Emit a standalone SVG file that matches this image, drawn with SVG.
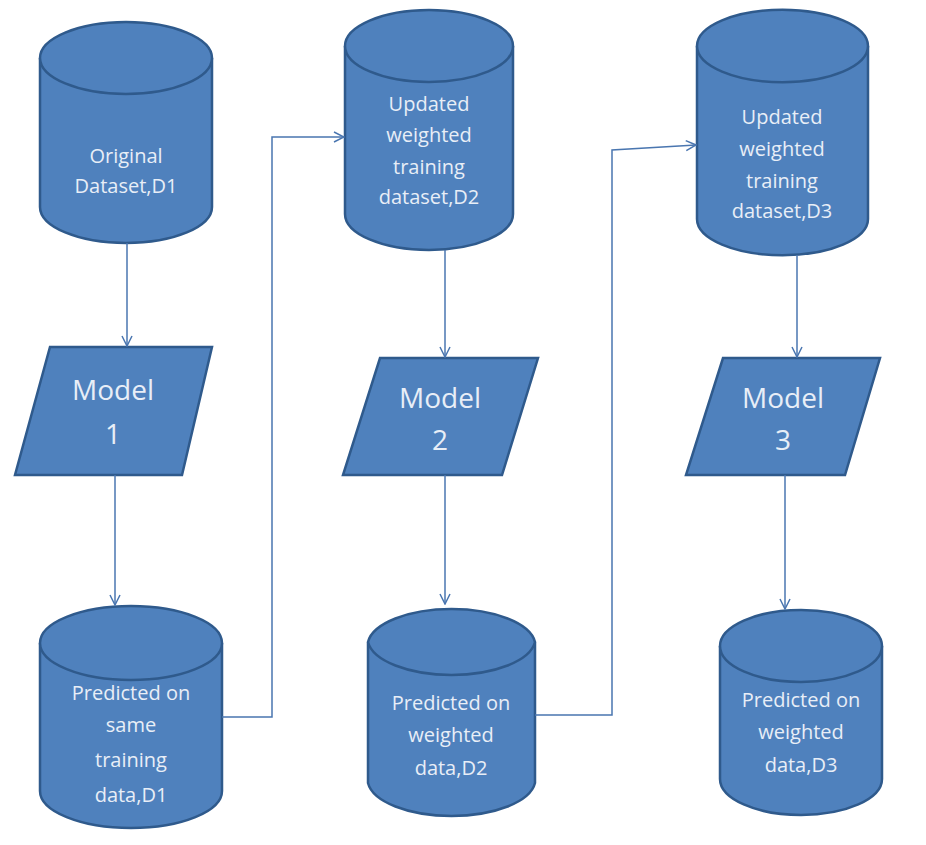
<svg xmlns="http://www.w3.org/2000/svg" width="926" height="845" viewBox="0 0 926 845">
<defs>
<marker id="ah" viewBox="0 0 12 12" refX="11" refY="6" markerWidth="12" markerHeight="12" markerUnits="userSpaceOnUse" orient="auto"><path d="M1,1 L11,6 L1,11" fill="none" stroke="#4a76b0" stroke-width="1.5"/></marker>
</defs>
<style>
.s{fill:#4f81bd;stroke:#2f5a8c;stroke-width:2.5}
.t{font-family:"Open Sans","Liberation Sans",sans-serif;fill:#e8eef7;text-anchor:middle;font-size:20px}
.m{font-size:28px}
.c{fill:none;stroke:#4a76b0;stroke-width:1.5;marker-end:url(#ah)}
</style>
<rect width="926" height="845" fill="#fff"/>
<g id="cyl1"><path class="s" d="M40,58 A86,36 0 0 1 212,58 V207 A86,36 0 0 1 40,207 Z"/><path class="s" d="M40,58 A86,36 0 0 0 212,58"/><text class="t" x="126" y="163">Original</text><text class="t" x="126" y="193">Dataset,D1</text></g>
<g id="cyl2"><path class="s" d="M345,46 A84,36 0 0 1 513,46 V214 A84,36 0 0 1 345,214 Z"/><path class="s" d="M345,46 A84,36 0 0 0 513,46"/><text class="t" x="429" y="111">Updated</text><text class="t" x="429" y="142">weighted</text><text class="t" x="429" y="174">training</text><text class="t" x="429" y="204">dataset,D2</text></g>
<g id="cyl3"><path class="s" d="M697,46 A85,36 0 0 1 868,46 V219 A85,36 0 0 1 697,219 Z"/><path class="s" d="M697,46 A85,36 0 0 0 868,46"/><text class="t" x="782" y="124">Updated</text><text class="t" x="782" y="156">weighted</text><text class="t" x="782" y="188">training</text><text class="t" x="782" y="218">dataset,D3</text></g>
<g id="model1"><path class="s" d="M50,347 H212 L182,475 H15 Z"/><text class="t m" x="113" y="400">Model</text><text class="t m" x="113" y="444">1</text></g>
<g id="model2"><path class="s" d="M380,358 H538 L502,475 H343 Z"/><text class="t m" x="440" y="408">Model</text><text class="t m" x="440" y="450">2</text></g>
<g id="model3"><path class="s" d="M723,358 H880 L845,475 H686 Z"/><text class="t m" x="783" y="408">Model</text><text class="t m" x="783" y="450">3</text></g>
<g id="pred1"><path class="s" d="M40,643 A91,37 0 0 1 222,643 V791 A91,37 0 0 1 40,791 Z"/><path class="s" d="M40,643 A91,37 0 0 0 222,643"/><text class="t" x="131" y="700">Predicted on</text><text class="t" x="131" y="732">same</text><text class="t" x="131" y="767">training</text><text class="t" x="131" y="802">data,D1</text></g>
<g id="pred2"><path class="s" d="M368,642 A84,37 0 0 1 535,642 V783 A84,37 0 0 1 368,783 Z"/><path class="s" d="M368,642 A84,37 0 0 0 535,642"/><text class="t" x="451" y="710">Predicted on</text><text class="t" x="451" y="742">weighted</text><text class="t" x="451" y="775">data,D2</text></g>
<g id="pred3"><path class="s" d="M720,646 A81,36 0 0 1 882,646 V779 A81,36 0 0 1 720,779 Z"/><path class="s" d="M720,646 A81,36 0 0 0 882,646"/><text class="t" x="801" y="707">Predicted on</text><text class="t" x="801" y="739">weighted</text><text class="t" x="801" y="772">data,D3</text></g>
<g id="connectors">
<path class="c" d="M127,243 V346"/>
<path class="c" d="M115,475 V605"/>
<path class="c" d="M222,717 H272 V137 H344"/>
<path class="c" d="M445,250 V357"/>
<path class="c" d="M445,475 V604"/>
<path class="c" d="M535,715 H612 V150 L696,145"/>
<path class="c" d="M797,255 V357"/>
<path class="c" d="M785,475 V609"/>
</g>
</svg>
